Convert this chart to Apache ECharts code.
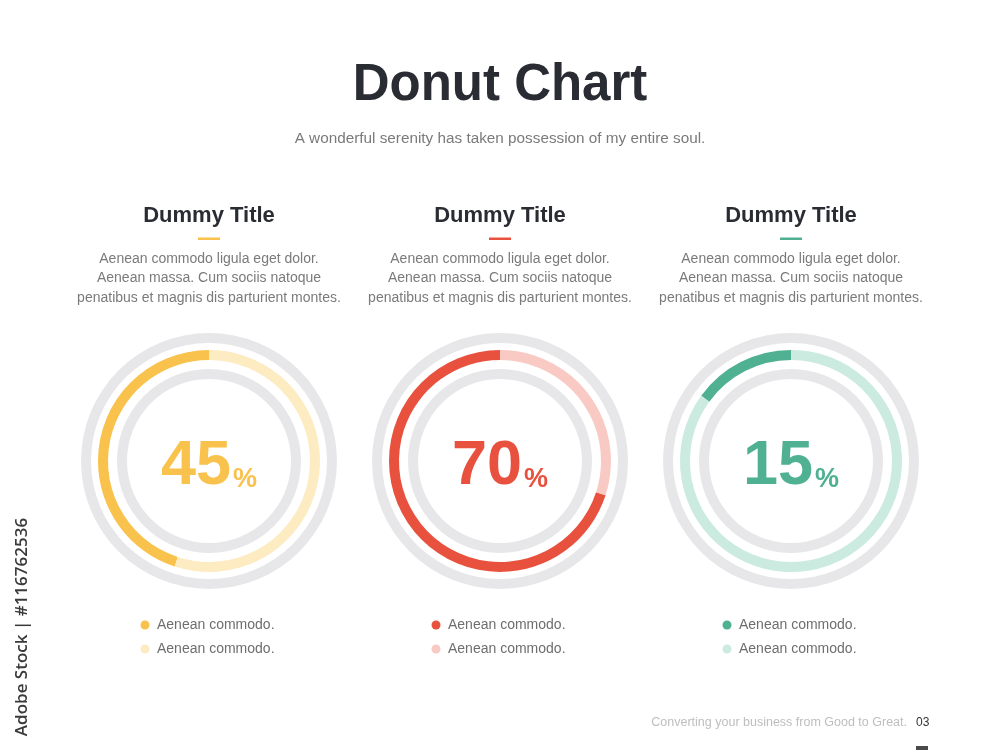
<!DOCTYPE html>
<html>
<head>
<meta charset="utf-8">
<script src="https://cdn.jsdelivr.net/npm/echarts@6/dist/echarts.min.js"></script>
<style>
html,body{margin:0;padding:0;background:#fff;}
#chart{width:1000px;height:750px;}
</style>
</head>
<body>
<div id="chart"></div>
<script>
// ---- data ----
const percents = [45, 70, 15];
const mainColors = ['#F9C24D', '#E9513F', '#4FB092'];
const lightColors = ['#FDEBC2', '#F9CAC4', '#CBEAE0'];
const panelTitles = ['Dummy Title', 'Dummy Title', 'Dummy Title'];
const descLines = [
  'Aenean commodo ligula eget dolor.',
  'Aenean massa. Cum sociis natoque',
  'penatibus et magnis dis parturient montes.'
];
const legendLabels = ['Aenean commodo.', 'Aenean commodo.'];
const mainTitle = 'Donut Chart';
const subTitle = 'A wonderful serenity has taken possession of my entire soul.';
const footerText = 'Converting your business from Good to Great.';
const pageNumber = '03';
const sideText = 'Adobe Stock | #116762536';

// ---- layout ----
const centersX = [209, 500, 791];
const centerY = 461;
const ringGray = '#E7E7E9';
const font = 'Liberation Sans, Arial, sans-serif';

const chart = echarts.init(document.getElementById('chart'), null, {renderer: 'canvas'});

const series = [];
const graphic = [];

percents.forEach((p, i) => {
  const cx = centersX[i];
  // outer gray ring
  series.push({
    type: 'pie', silent: true, center: [cx, centerY], radius: [118, 128],
    label: {show: false}, labelLine: {show: false},
    itemStyle: {color: ringGray}, data: [{value: 1, name: 'outer' + i}]
  });
  // inner gray ring
  series.push({
    type: 'pie', silent: true, center: [cx, centerY], radius: [82, 92],
    label: {show: false}, labelLine: {show: false},
    itemStyle: {color: ringGray}, data: [{value: 1, name: 'inner' + i}]
  });
  // value ring
  series.push({
    type: 'pie', silent: true, center: [cx, centerY], radius: [101, 111],
    startAngle: 90, clockwise: false,
    labelLine: {show: false},
    data: [
      {
        value: p, name: 'val' + i, itemStyle: {color: mainColors[i]},
        label: {
          show: true, position: 'center',
          padding: [12, 0, 0, 0],
          formatter: () => '{n|' + p + '}{p|%}',
          rich: {
            n: {fontSize: 63, lineHeight: 63, verticalAlign: 'bottom', fontWeight: 'bold', color: mainColors[i], fontFamily: font, padding: [0, 2, 0, 0]},
            p: {fontSize: 27, lineHeight: 27, verticalAlign: 'bottom', fontWeight: 'bold', color: mainColors[i], fontFamily: font, padding: [0, 0, 5, 0]}
          }
        }
      },
      {value: 100 - p, name: 'rest' + i, itemStyle: {color: lightColors[i]}, label: {show: false}}
    ]
  });

  // panel title
  graphic.push({
    type: 'text', x: cx, y: 216,
    style: {text: panelTitles[i], font: 'bold 22px ' + font, fill: '#2A2C33', textAlign: 'center', textVerticalAlign: 'middle'}
  });
  graphic.push({
    type: 'rect', shape: {x: cx - 11, y: 237.5, width: 22, height: 2.5},
    style: {fill: mainColors[i]}
  });
  descLines.forEach((line, k) => {
    graphic.push({
      type: 'text', x: cx, y: 259 + k * 19.5,
      style: {text: line, font: '14px ' + font, fill: '#7A7A7A', textAlign: 'center', textVerticalAlign: 'middle'}
    });
  });
  // legend
  legendLabels.forEach((lab, k) => {
    const y = 625 + k * 24;
    graphic.push({
      type: 'circle', shape: {cx: cx - 64, cy: y, r: 4.5},
      style: {fill: k === 0 ? mainColors[i] : lightColors[i]}
    });
    graphic.push({
      type: 'text', x: cx - 52, y: y,
      style: {text: lab, font: '14px ' + font, fill: '#6E6E6E', textAlign: 'left', textVerticalAlign: 'middle'}
    });
  });
});

// header
graphic.push({
  type: 'text', x: 500, y: 86,
  style: {text: mainTitle, font: 'bold 51px ' + font, fill: '#2A2C33', textAlign: 'center', textVerticalAlign: 'middle'}
});
graphic.push({
  type: 'text', x: 500, y: 139,
  style: {text: subTitle, font: '15.3px ' + font, fill: '#7A7A7A', textAlign: 'center', textVerticalAlign: 'middle'}
});
// footer
graphic.push({
  type: 'text', x: 907, y: 723,
  style: {text: footerText, font: '12.5px ' + font, fill: '#BEBEBE', textAlign: 'right', textVerticalAlign: 'middle'}
});
graphic.push({
  type: 'text', x: 916, y: 723,
  style: {text: pageNumber, font: '12px ' + font, fill: '#333333', textAlign: 'left', textVerticalAlign: 'middle'}
});
graphic.push({
  type: 'rect', shape: {x: 916, y: 746, width: 12, height: 4},
  style: {fill: '#4A4A4A'}
});
// side text
graphic.push({
  type: 'text', x: 22, y: 627, rotation: Math.PI / 2,
  style: {text: sideText, font: '600 17px "Open Sans", sans-serif', fill: '#3A3A3A', textAlign: 'center', textVerticalAlign: 'middle'}
});

chart.setOption({
  backgroundColor: '#ffffff',
  animation: false,
  series: series,
  graphic: graphic
});
</script>
</body>
</html>
